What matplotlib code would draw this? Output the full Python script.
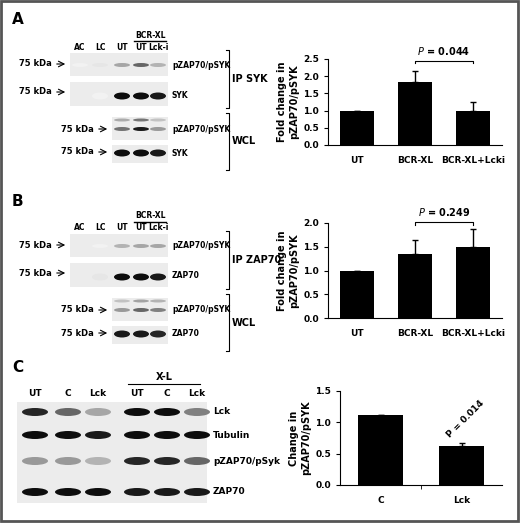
import matplotlib.pyplot as plt
from matplotlib.patches import Rectangle, Ellipse

# bar chart data
groups_ab = ['UT', 'BCR-XL', 'BCR-XL+Lcki']
fold_a = [1.0, 1.82, 0.98]
err_a = [0.0, 0.33, 0.27]
fold_b = [1.0, 1.35, 1.5]
err_b = [0.0, 0.29, 0.38]
groups_c = ['C', 'Lck']
change_c = [1.12, 0.62]
err_c = [0.0, 0.05]

# band intensities for the blots (0..1, darkness)
lanes_ab = ['AC', 'LC', 'UT', 'UT', 'Lck-i']
a_ip_p = [0.05, 0.1, 0.35, 0.6, 0.3]
a_ip_syk = [0.0, 0.05, 0.95, 0.95, 0.9]
a_wcl_p = [0.55, 0.9, 0.4]
a_wcl_syk = [0.95, 0.95, 0.9]
b_ip_p = [0.0, 0.05, 0.3, 0.35, 0.35]
b_ip_z = [0.0, 0.1, 0.95, 0.95, 0.9]
b_wcl_p = [0.4, 0.6, 0.5]
b_wcl_z = [0.9, 0.9, 0.85]
lanes_c = ['UT', 'C', 'Lck', 'UT', 'C', 'Lck']
c_rows = ['Lck', 'Tubulin', 'pZAP70/pSyk', 'ZAP70']
c_vals = [[0.85, 0.6, 0.35, 0.95, 0.95, 0.5],
          [0.95, 0.95, 0.9, 0.95, 0.95, 0.95],
          [0.4, 0.4, 0.3, 0.85, 0.85, 0.6],
          [0.95, 0.95, 0.95, 0.9, 0.9, 0.9]]

W, H = 520, 523
fig = plt.figure(figsize=(5.2, 5.23), dpi=100)
bg = fig.add_axes([0, 0, 1, 1])
bg.set_xlim(0, W)
bg.set_ylim(H, 0)
bg.axis('off')
bg.add_patch(Rectangle((1, 1), W - 3, H - 3, fill=False, ec='#555555', lw=2))

def band_row(xs, y, vals, bw=16, bh=7):
    for x, v in zip(xs, vals):
        if v > 0.02:
            g = 1 - v
            bg.add_patch(Ellipse((x, y), bw, bh, color=(g, g, g), lw=0))

def blot_box(x0, x1, y0, y1):
    bg.add_patch(Rectangle((x0, y0), x1 - x0, y1 - y0, color='#ececec', lw=0))

def kda(x_end, y):
    bg.annotate('', xy=(x_end, y), xytext=(x_end - 14, y),
                arrowprops=dict(arrowstyle='->', lw=0.8))
    bg.text(x_end - 16, y, '75 kDa', ha='right', va='center', fontsize=6, weight='bold')

def bracket(x, y0, y1, label):
    bg.plot([x - 3, x, x, x - 3], [y0, y0, y1, y1], color='k', lw=0.8)
    bg.text(x + 3, (y0 + y1) / 2, label, ha='left', va='center', fontsize=7, weight='bold')

def panel_ab(off, letter, ip_name, prot, ip_p, ip_x, wcl_p, wcl_x):
    bg.text(12, 20 + off, letter, fontsize=11, weight='bold', va='center')
    xs = [80, 100, 122, 141, 158]
    for x, l in zip(xs, lanes_ab):
        bg.text(x, 47 + off, l, ha='center', va='center', fontsize=5.5, weight='bold')
    bg.text(150, 35 + off, 'BCR-XL', ha='center', va='center', fontsize=5.5, weight='bold')
    bg.plot([134, 166], [41 + off, 41 + off], color='k', lw=1)
    blot_box(70, 168, 53 + off, 76 + off)
    blot_box(70, 168, 82 + off, 106 + off)
    blot_box(112, 168, 117 + off, 140 + off)
    blot_box(112, 168, 145 + off, 163 + off)
    band_row(xs, 65 + off, ip_p, bh=4)
    band_row(xs, 96 + off, ip_x)
    band_row(xs[2:], 129 + off, wcl_p, bh=4)
    band_row(xs[2:], 120 + off, [v * 0.6 for v in wcl_p], bh=3)
    band_row(xs[2:], 153 + off, wcl_x)
    kda(68, 64 + off)
    kda(68, 92 + off)
    kda(110, 129 + off)
    kda(110, 152 + off)
    for y, t in [(65, 'pZAP70/pSYK'), (95, prot), (129, 'pZAP70/pSYK'), (153, prot)]:
        bg.text(172, y + off, t, fontsize=5.5, weight='bold', va='center')
    bracket(229, 50 + off, 108 + off, ip_name)
    bracket(229, 113 + off, 170 + off, 'WCL')

panel_ab(0, 'A', 'IP SYK', 'SYK', a_ip_p, a_ip_syk, a_wcl_p, a_wcl_syk)
panel_ab(181, 'B', 'IP ZAP70', 'ZAP70', b_ip_p, b_ip_z, b_wcl_p, b_wcl_z)

# panel C blots
bg.text(12, 367, 'C', fontsize=11, weight='bold', va='center')
xc = [35, 68, 98, 137, 167, 197]
for x, l in zip(xc, lanes_c):
    bg.text(x, 394, l, ha='center', va='center', fontsize=6.5, weight='bold')
bg.text(164, 377, 'X-L', ha='center', va='center', fontsize=7, weight='bold')
bg.plot([128, 200], [384, 384], color='k', lw=0.8)
blot_box(17, 207, 402, 503)
for ry, name, vals in zip([412, 435, 461, 492], c_rows, c_vals):
    band_row(xc, ry, vals, bw=26, bh=8)
    bg.text(213, ry, name, fontsize=6.5, weight='bold', va='center')

def bar_panel(rect, labels, vals, errs, ymax, step, ylabel, xlim, width):
    ax = fig.add_axes([rect[0] / W, 1 - rect[3] / H, (rect[2] - rect[0]) / W, (rect[3] - rect[1]) / H])
    xs = range(len(vals))
    ax.bar(xs, vals, width=width, color='k', yerr=[[0] * len(vals), errs],
           error_kw=dict(ecolor='k', lw=1, capsize=2))
    ax.set_ylim(0, ymax)
    ax.set_xlim(*xlim)
    ax.set_yticks([i * step for i in range(int(round(ymax / step)) + 1)])
    ax.yaxis.set_major_formatter(plt.FormatStrFormatter('%.1f'))
    ax.set_xticks(list(xs))
    ax.set_xticklabels(labels, fontsize=6.5, weight='bold')
    ax.tick_params(axis='x', length=0, pad=8)
    ax.tick_params(axis='y', labelsize=6.5, length=3)
    for t in ax.get_yticklabels():
        t.set_fontweight('bold')
    ax.spines['top'].set_visible(False)
    ax.spines['right'].set_visible(False)
    ax.set_ylabel(ylabel, fontsize=7, weight='bold', labelpad=3)
    return ax

axa = bar_panel((328, 59, 502, 145), groups_ab, fold_a, err_a, 2.5, 0.5,
                'Fold change in\npZAP70/pSYK', (-0.5, 2.5), 0.6)
axa.plot([1, 1, 2, 2], [2.38, 2.45, 2.45, 2.38], color='k', lw=0.8, clip_on=False)
axa.text(1.5, 2.55, '$\\bf{\\it{P}}$ = 0.044', ha='center', va='bottom', fontsize=7, weight='bold')

axb = bar_panel((328, 223, 502, 318), groups_ab, fold_b, err_b, 2.0, 0.5,
                'Fold change in\npZAP70/pSYK', (-0.5, 2.5), 0.6)
axb.plot([1, 1, 2, 2], [1.95, 2.02, 2.02, 1.95], color='k', lw=0.8, clip_on=False)
axb.text(1.5, 2.1, '$\\bf{\\it{P}}$ = 0.249', ha='center', va='bottom', fontsize=7, weight='bold')

axc = bar_panel((340, 391, 502, 485), groups_c, change_c, err_c, 1.5, 0.5,
                'Change in\npZAP70/pSYK', (-0.5, 1.5), 0.55)
axc.set_xticks([0.5], minor=True)
axc.tick_params(axis='x', which='minor', length=3)
axc.tick_params(axis='x', which='major', length=0)
axc.text(1.05, 0.72, 'P = 0.014', rotation=45, ha='center', va='bottom', fontsize=6.5, weight='bold')

fig.savefig('out.png', dpi=100)
